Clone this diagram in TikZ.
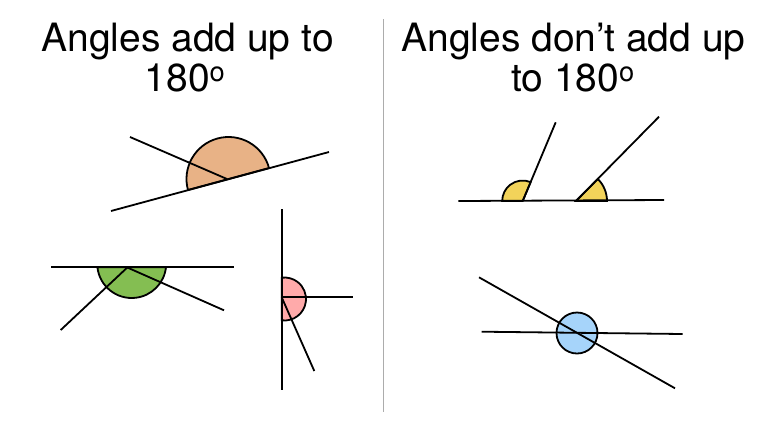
\documentclass[tikz,border=0pt]{standalone}
\usepackage{fontspec}
\setmainfont{TeX Gyre Heros}
\definecolor{wedgeorange}{HTML}{E8B286}
\definecolor{wedgegreen}{HTML}{84BE52}
\definecolor{wedgepink}{HTML}{FFAAAA}
\definecolor{wedgeyellow}{HTML}{F2D35A}
\definecolor{wedgeblue}{HTML}{A6D4FA}
\tikzset{
  ray/.style={line width=1.8pt},
  wedge/.style={draw=black, line width=1.8pt},
  title/.style={font=\fontsize{39}{40}\selectfont, anchor=base, inner sep=0pt}
}
\begin{document}
\begin{tikzpicture}[x=1pt,y=1pt]
\useasboundingbox (0,0) rectangle (768,-432);

\node[title] (lefttitle) at (187.5,-51) {Angles add up to};
\node[title] (leftdeg) at (185,-91) {180\textsuperscript{o}};
\node[title] (righttitle) at (573.5,-51) {Angles don’t add up};
\node[title] (rightdeg) at (573,-91) {to 180\textsuperscript{o}};

\draw[gray!65, line width=1.5pt] (383.5,-19) -- (383.5,-412);

\coordinate (orangev) at (227,-179);
\coordinate (greenv) at (127.3,-267.5);
\coordinate (pinkv) at (281.7,-297.3);
\coordinate (yellowa) at (522.7,-201);
\coordinate (yellowb) at (576,-201);
\coordinate (bluev) at (577,-333);

% wedges
\filldraw[wedge, fill=wedgeorange] (228.5,-179) ++(15.14:42pt)
  arc[start angle=15.14, end angle=195.14, radius=42pt] -- cycle;
\filldraw[wedge, fill=wedgegreen] (131.7,-263.5) ++(186.3:34.5pt)
  arc[start angle=186.3, end angle=353.7, radius=34.5pt] -- cycle;
\filldraw[wedge, fill=wedgepink] (284.5,-299) ++(-97.5:21.5pt)
  arc[start angle=-97.5, end angle=97.5, radius=21.5pt] -- cycle;
\filldraw[wedge, fill=wedgeyellow] (yellowa) -- ++(67.2:20.5pt)
  arc[start angle=67.2, end angle=180, radius=20.5pt] -- cycle;
\filldraw[wedge, fill=wedgeyellow] (yellowb) -- ++(0:31pt)
  arc[start angle=0, end angle=45.2, radius=31pt] -- cycle;
\filldraw[wedge, fill=wedgeblue] (bluev) circle[radius=20.5pt];

% lines
\draw[ray] (111,-211) -- (329,-152);
\draw[ray] (130,-137) -- (orangev);
\draw[ray] (51,-267.3) -- (234.3,-267.3);
\draw[ray] (greenv) -- (60.7,-330);
\draw[ray] (greenv) -- (224,-310.3);
\draw[ray] (281.7,-209.3) -- (281.7,-390);
\draw[ray] (pinkv) -- (352.7,-297.3);
\draw[ray] (pinkv) -- (314.3,-371);
\draw[ray] (458.3,-201) -- (664,-200);
\draw[ray] (yellowa) -- (555.7,-122.3);
\draw[ray] (yellowb) -- (659,-116.7);
\draw[ray] (481.7,-331.7) -- (682.7,-334);
\draw[ray] (479,-277.3) -- (675,-388.3);
\end{tikzpicture}
\end{document}
